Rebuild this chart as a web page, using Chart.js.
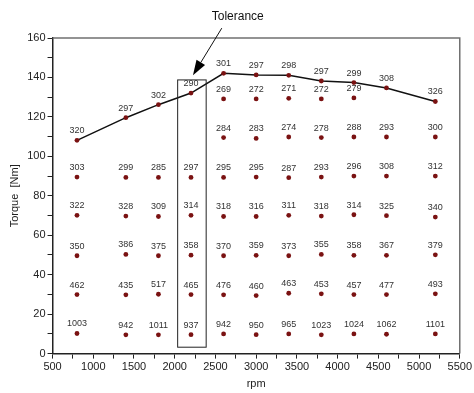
<!DOCTYPE html>
<html>
<head>
  <title>Torque map</title>
  <script src="https://cdn.jsdelivr.net/npm/chart.js"></script>
  <style>
    body { margin: 0; background: white; }
    .chart-container { position: relative; width: 474px; height: 393px; }
  </style>
</head>
<body>
  <div class="chart-container">
    <canvas id="torqueChart"></canvas>
  </div>
  <script>
    // regimes (rpm) des colonnes
    var rpm = [800, 1400, 1800, 2200, 2600, 3000, 3400, 3800, 4200, 4600, 5200];

    // courbe de couple max + valeurs affichees
    var fullLoad = [108.1, 119.6, 126.2, 132.1, 142.1, 141.3, 141.1, 138.2, 137.4, 134.7, 127.8];
    var fullLoadLbl = [320, 297, 302, 290, 301, 297, 298, 297, 299, 308, 326];

    // lignes de points (null = pas de mesure)
    var row130 = [null, null, null, null, 129.1, 129.1, 129.4, 129.1, 129.6, null, null];
    var row130Lbl = [null, null, null, null, 269, 272, 271, 272, 279, null, null];
    var row110 = [null, null, null, null, 109.5, 109.1, 109.8, 109.5, 109.8, 109.8, 109.8];
    var row110Lbl = [null, null, null, null, 284, 283, 274, 278, 288, 293, 300];
    var row90 = [89.5, 89.3, 89.3, 89.3, 89.3, 89.5, 89.2, 89.5, 90.0, 90.0, 90.0];
    var row90Lbl = [303, 299, 285, 297, 295, 295, 287, 293, 296, 308, 312];
    var row70 = [70.1, 69.7, 69.5, 70.1, 69.5, 69.5, 70.1, 69.7, 70.4, 69.9, 69.2];
    var row70Lbl = [322, 328, 309, 314, 318, 316, 311, 318, 314, 325, 340];
    var row50 = [49.6, 50.3, 49.6, 49.9, 49.6, 49.8, 49.6, 50.3, 49.8, 49.8, 50.1];
    var row50Lbl = [350, 386, 375, 358, 370, 359, 373, 355, 358, 367, 379];
    var row30 = [29.9, 29.8, 30.1, 29.9, 29.8, 29.4, 30.6, 30.3, 29.9, 29.9, 30.3];
    var row30Lbl = [462, 435, 517, 465, 476, 460, 463, 453, 457, 477, 493];
    var row10 = [10.2, 9.5, 9.5, 9.6, 10.0, 9.6, 10.0, 9.5, 10.0, 9.8, 10.0];
    var row10Lbl = [1003, 942, 1011, 937, 942, 950, 965, 1023, 1024, 1062, 1101];

    // cadre "Tolerance" et fleche (en unites du graphe)
    var tolRpm = [2030, 2380];
    var tolTorque = [3.5, 139];
    var arrowFrom = [2578, 165];
    var arrowTo = [2224, 141.1];
    var tolText = [2774, 170.6];

    function toPoints(ys, lbls) {
      var pts = [];
      for (var i = 0; i < rpm.length; i++) {
        if (ys[i] !== null) pts.push({ x: rpm[i], y: ys[i], lbl: lbls[i] });
      }
      return pts;
    }

    var gridPts = []
      .concat(toPoints(row130, row130Lbl))
      .concat(toPoints(row110, row110Lbl))
      .concat(toPoints(row90, row90Lbl))
      .concat(toPoints(row70, row70Lbl))
      .concat(toPoints(row50, row50Lbl))
      .concat(toPoints(row30, row30Lbl))
      .concat(toPoints(row10, row10Lbl));

    var dotColor = '#7a1212';

    // cadre, etiquettes, fleche
    var extras = {
      id: 'extras',
      afterDatasetsDraw: function(chart) {
        var ctx = chart.ctx;
        var xs = chart.scales.x, ys = chart.scales.y;
        var a = chart.chartArea;
        ctx.save();

        // bord haut et droit
        ctx.strokeStyle = '#707070';
        ctx.lineWidth = 1.5;
        ctx.beginPath();
        ctx.moveTo(a.left, a.top);
        ctx.lineTo(a.right, a.top);
        ctx.lineTo(a.right, a.bottom);
        ctx.stroke();

        // cadre tolerance
        var x1 = xs.getPixelForValue(tolRpm[0]), x2 = xs.getPixelForValue(tolRpm[1]);
        var y1 = ys.getPixelForValue(tolTorque[1]), y2 = ys.getPixelForValue(tolTorque[0]);
        ctx.strokeStyle = '#222';
        ctx.lineWidth = 1;
        ctx.strokeRect(x1 + 0.5, y1 + 0.5, x2 - x1, y2 - y1);

        // etiquettes des points
        ctx.fillStyle = '#333';
        ctx.font = '9px Arial, "Liberation Sans"';
        ctx.textAlign = 'center';
        ctx.textBaseline = 'bottom';
        chart.data.datasets.forEach(function(ds) {
          ds.data.forEach(function(p) {
            ctx.fillText(String(p.lbl), xs.getPixelForValue(p.x), ys.getPixelForValue(p.y) - 5);
          });
        });

        // fleche
        var fx = xs.getPixelForValue(arrowFrom[0]), fy = ys.getPixelForValue(arrowFrom[1]);
        var tx = xs.getPixelForValue(arrowTo[0]), ty = ys.getPixelForValue(arrowTo[1]);
        var ang = Math.atan2(ty - fy, tx - fx);
        var len = 15, half = 5;
        var bx = tx - len * Math.cos(ang), by = ty - len * Math.sin(ang);
        ctx.strokeStyle = '#111';
        ctx.lineWidth = 1;
        ctx.beginPath();
        ctx.moveTo(fx, fy);
        ctx.lineTo(bx, by);
        ctx.stroke();
        ctx.fillStyle = '#000';
        ctx.beginPath();
        ctx.moveTo(tx, ty);
        ctx.lineTo(bx + half * Math.sin(ang), by - half * Math.cos(ang));
        ctx.lineTo(bx - half * Math.sin(ang), by + half * Math.cos(ang));
        ctx.closePath();
        ctx.fill();

        ctx.fillStyle = '#111';
        ctx.font = '12px Arial, "Liberation Sans"';
        ctx.textBaseline = 'middle';
        ctx.fillText('Tolerance', xs.getPixelForValue(tolText[0]), ys.getPixelForValue(tolText[1]));
        ctx.restore();
      }
    };

    var chart = new Chart(document.getElementById('torqueChart'), {
      type: 'scatter',
      data: {
        datasets: [{
          data: toPoints(fullLoad, fullLoadLbl),
          showLine: true,
          borderColor: '#111',
          borderWidth: 1.5,
          pointBackgroundColor: dotColor,
          pointBorderColor: dotColor,
          pointBorderWidth: 0,
          pointRadius: 2.4
        }, {
          data: gridPts,
          showLine: false,
          pointBackgroundColor: dotColor,
          pointBorderColor: dotColor,
          pointBorderWidth: 0,
          pointRadius: 2.4
        }]
      },
      options: {
        responsive: true,
        maintainAspectRatio: false,
        animation: false,
        layout: { padding: { top: 38, right: 11, left: 4, bottom: 2 } },
        plugins: { legend: { display: false }, tooltip: { enabled: false } },
        scales: {
          x: {
            min: 500, max: 5500,
            border: { color: '#222', width: 1.5 },
            grid: { drawOnChartArea: false, tickLength: 5, color: '#222' },
            ticks: {
              stepSize: 250,
              autoSkip: false,
              maxRotation: 0,
              color: '#222',
              font: { family: 'Arial, "Liberation Sans"', size: 11 },
              padding: 2,
              callback: function(v) { return v % 500 === 0 ? v : ''; }
            },
            title: { display: true, text: 'rpm', color: '#222', font: { family: 'Arial, "Liberation Sans"', size: 11 }, padding: { top: 2, bottom: 0 } }
          },
          y: {
            min: 0, max: 160,
            border: { color: '#222', width: 1.5 },
            grid: { drawOnChartArea: false, tickLength: 5, color: '#222' },
            ticks: {
              stepSize: 10,
              autoSkip: false,
              color: '#222',
              font: { family: 'Arial, "Liberation Sans"', size: 11 },
              padding: 2,
              callback: function(v) { return v % 20 === 0 ? v : ''; }
            },
            title: { display: true, text: 'Torque  [Nm]', color: '#222', font: { family: 'Arial, "Liberation Sans"', size: 11 }, padding: { bottom: 4 } }
          }
        }
      },
      plugins: [extras]
    });
  </script>
</body>
</html>
